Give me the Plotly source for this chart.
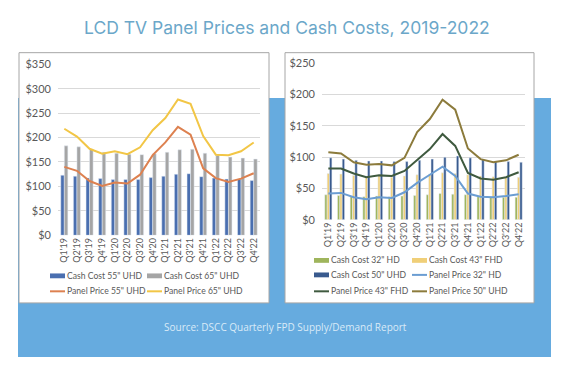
import plotly.graph_objects as go

# ---------------- data ----------------
quarters = ["Q1'19", "Q2'19", "Q3'19", "Q4'19", "Q1'20", "Q2'20", "Q3'20", "Q4'20",
            "Q1'21", "Q2'21", "Q3'21", "Q4'21", "Q1'22", "Q2'22", "Q3'22", "Q4'22"]

cash_cost_55_uhd = [123, 121, 117, 116, 114, 114, 114, 118, 121, 125, 126, 120, 117, 115, 115, 112]
cash_cost_65_uhd = [183, 181, 176, 170, 168, 166, 165, 167, 170, 175, 176, 168, 164, 160, 158, 156]
panel_price_55_uhd = [140, 132, 111, 101, 108, 106, 124, 164, 190, 222, 206, 137, 117, 109, 116, 127]
panel_price_65_uhd = [218, 202, 177, 167, 172, 166, 180, 215, 240, 278, 269, 203, 165, 164, 172, 190]

cash_cost_32_hd = [40, 39, 37, 37, 38, 37, 38, 39, 40, 42, 41, 40, 37, 36, 36, 36]
cash_cost_43_fhd = [74, 73, 71, 70, 70, 68, 70, 72, 73, 75, 74, 72, 70, 69, 68, 68]
cash_cost_50_uhd = [99, 97, 95, 94, 94, 93, 93, 95, 97, 100, 102, 99, 97, 94, 93, 92]
panel_price_32_hd = [42, 43, 36, 33, 36, 35, 44, 59, 72, 85, 70, 42, 37, 36, 38, 41]
panel_price_43_fhd = [82, 82, 74, 68, 71, 70, 78, 95, 113, 137, 118, 75, 66, 64, 68, 76]
panel_price_50_uhd = [108, 106, 92, 88, 89, 87, 99, 140, 161, 192, 176, 114, 97, 92, 95, 104]

left_tick_vals = [0, 50, 100, 150, 200, 250, 300, 350]
left_tick_text = ["$0", "$50", "$100", "$150", "$200", "$250", "$300", "$350"]
right_tick_vals = [0, 50, 100, 150, 200, 250]
right_tick_text = ["$0", "$50", "$100", "$150", "$200", "$250"]

title_text = "LCD TV Panel Prices and Cash Costs, 2019-2022"
source_text = "Source: DSCC Quarterly FPD Supply/Demand Report"

# ---------------- layout helpers ----------------
# the page body has an 8px margin, so the figure occupies window pixels 8..580 / 8..392
OFF = 8
W, H = 580 - OFF, 392 - OFF
def px(x):
    return (x - OFF) / W
def py(y):
    return 1 - (y - OFF) / H

FONT = "Lato, Open Sans, sans-serif"
TXT = "#595959"

# series styling: (name, kind, colour, values, axis-suffix, legend swatch x0, legend row y)
series = [
    ('Cash Cost 55" UHD', "bar", "#4a6fb0", cash_cost_55_uhd, "", 50, 278),
    ('Cash Cost 65" UHD', "bar", "#a5a5a5", cash_cost_65_uhd, "", 147, 278),
    ('Panel Price 55" UHD', "line", "#dd8150", panel_price_55_uhd, "", 50, 294),
    ('Panel Price 65" UHD', "line", "#f2c646", panel_price_65_uhd, "", 147, 294),
    ('Cash Cost 32" HD', "bar", "#9fb55c", cash_cost_32_hd, "2", 314, 262),
    ('Cash Cost 43" FHD', "bar", "#f0cf78", cash_cost_43_fhd, "2", 412, 262),
    ('Cash Cost 50" UHD', "bar", "#395a8e", cash_cost_50_uhd, "2", 314, 277),
    ('Panel Price 32" HD', "line", "#6b9dd2", panel_price_32_hd, "2", 412, 277),
    ('Panel Price 43" FHD', "line", "#3f5a3f", panel_price_43_fhd, "2", 314, 294),
    ('Panel Price 50" UHD', "line", "#8c7b3c", panel_price_50_uhd, "2", 412, 294),
]

fig = go.Figure()
shapes = [
    dict(type="rect", xref="paper", yref="paper", x0=px(18), x1=px(551), y0=py(362), y1=py(94),
         fillcolor="#66abdf", line=dict(width=0), layer="below"),
    dict(type="rect", xref="paper", yref="paper", x0=px(19), x1=px(269), y0=py(306), y1=py(47),
         fillcolor="white", line=dict(color="#a6a6a6", width=1), layer="below"),
    dict(type="rect", xref="paper", yref="paper", x0=px(285), x1=px(534), y0=py(306), y1=py(47),
         fillcolor="white", line=dict(color="#a6a6a6", width=1), layer="below"),
]
annotations = [
    dict(text=title_text, xref="paper", yref="paper", x=px(287), y=py(21),
         xanchor="center", yanchor="middle", showarrow=False,
         font=dict(family="Inter, Lato, sans-serif", size=17.5, color="#6ba7c9")),
    dict(text=source_text, xref="paper", yref="paper", x=px(285), y=py(331),
         xanchor="center", yanchor="middle", showarrow=False,
         font=dict(family="Open Sans, sans-serif", size=10, color="#d9eaf7")),
]

SW = 15  # legend swatch length
for name, kind, color, vals, ax, lx, ly in series:
    if kind == "bar":
        fig.add_trace(go.Bar(x=quarters, y=vals, name=name, marker_color=color,
                             xaxis="x" + ax, yaxis="y" + ax, showlegend=False))
        shapes.append(dict(type="rect", xref="paper", yref="paper",
                           x0=px(lx), x1=px(lx + SW), y0=py(ly + 2.5), y1=py(ly - 2.5),
                           fillcolor=color, line=dict(width=0)))
    else:
        fig.add_trace(go.Scatter(x=quarters, y=vals, name=name, mode="lines",
                                 line=dict(color=color, width=2),
                                 xaxis="x" + ax, yaxis="y" + ax, showlegend=False))
        shapes.append(dict(type="line", xref="paper", yref="paper",
                           x0=px(lx), x1=px(lx + SW), y0=py(ly), y1=py(ly),
                           line=dict(color=color, width=2)))
    annotations.append(dict(text=name, xref="paper", yref="paper", x=px(lx + SW), y=py(ly),
                            xanchor="left", yanchor="middle", showarrow=False,
                            font=dict(family=FONT, size=8.6, color=TXT)))

axis_common = dict(showgrid=False, zeroline=False, showline=False, ticks="",
                   tickangle=-90, tickfont=dict(family=FONT, size=9, color=TXT))
yaxis_common = dict(showgrid=True, gridcolor="#d9d9d9", gridwidth=1, zeroline=False,
                    showline=False, ticks="", tickfont=dict(family=FONT, size=11, color=TXT),
                    ticklabelstandoff=6)

fig.update_layout(
    width=W, height=H,
    margin=dict(l=0, r=0, t=0, b=0),
    paper_bgcolor="white", plot_bgcolor="rgba(0,0,0,0)",
    barmode="group", bargap=0.44, bargroupgap=0,
    showlegend=False,
    xaxis=dict(domain=[px(58), px(260)], anchor="y", **axis_common),
    yaxis=dict(domain=[py(236), py(59)], anchor="x", range=[0, 350],
               tickvals=left_tick_vals, ticktext=left_tick_text, **yaxis_common),
    xaxis2=dict(domain=[px(322), px(525)], anchor="y2", **axis_common),
    yaxis2=dict(domain=[py(220), py(58)], anchor="x2", range=[0, 250],
                tickvals=right_tick_vals, ticktext=right_tick_text, **yaxis_common),
    shapes=shapes,
    annotations=annotations,
)

fig.write_html("out.html")
